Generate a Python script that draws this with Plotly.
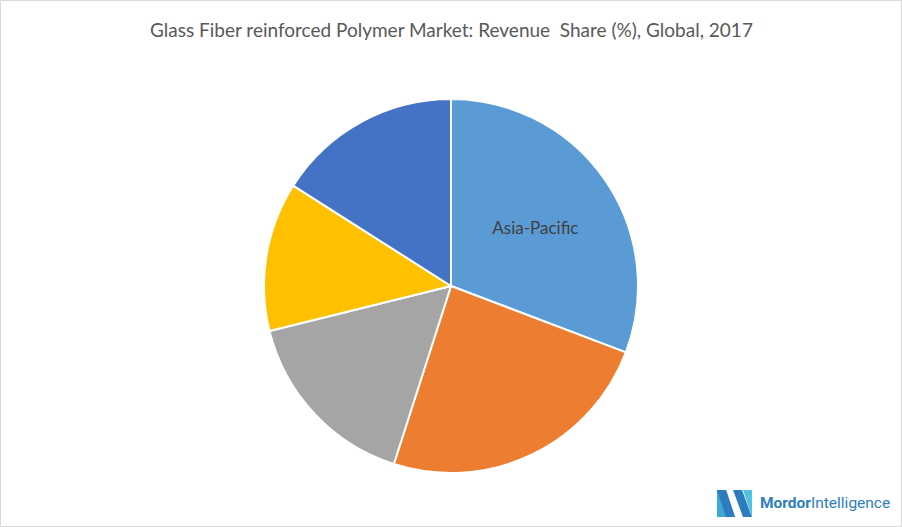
import plotly.graph_objects as go

regions = ["Asia-Pacific", "Europe", "North America", "South America", "Middle East & Africa"]
shares = [30.8, 24.2, 16.2, 12.9, 16.0]
colors = ["#5B9BD5", "#ED7D31", "#A5A5A5", "#FFC000", "#4472C4"]
shown_labels = ["Asia-Pacific", "", "", "", ""]

W, H = 902, 527
cx, cy, r = 451, 286, 187

fig = go.Figure(go.Pie(
    labels=regions,
    values=shares,
    sort=False,
    direction="clockwise",
    rotation=0,
    marker=dict(colors=colors, line=dict(color="white", width=2)),
    text=shown_labels,
    textinfo="text",
    textposition="inside",
    insidetextorientation="horizontal",
    textfont=dict(family="Lato, Liberation Sans, sans-serif", size=17, color="#404040"),
    hoverinfo="label+percent",
    showlegend=False,
    domain=dict(x=[(cx - r) / W, (cx + r) / W], y=[(H - cy - r) / H, (H - cy + r) / H]),
))

def px(x):
    return x / W

def py(y):
    return 1 - y / H

shapes = [
    dict(type="rect", xref="paper", yref="paper", x0=px(0.5), x1=px(W - 0.5), y0=py(H - 0.5), y1=py(0.5),
         line=dict(color="#D9D9D9", width=1), fillcolor="rgba(0,0,0,0)"),
]
# logo icon
logo_polys = [
    ([(717, 490), (726, 490), (735, 517), (717, 517)], "#3FA9D6"),
    ([(717, 490), (726, 490), (735, 517), (726, 517)], "#2B7DBF"),
    ([(733, 490), (742, 490), (752, 517), (743, 517)], "#2B7DBF"),
    ([(743, 490), (752, 490), (752, 517)], "#4FC3E0"),
]
for pts, col in logo_polys:
    path = "M " + " L ".join(f"{px(x)},{py(y)}" for x, y in pts) + " Z"
    shapes.append(dict(type="path", xref="paper", yref="paper", path=path, fillcolor=col, line=dict(width=0)))

annotations = [
    dict(text="Glass Fiber reinforced Polymer Market: Revenue  Share (%), Global, 2017",
         x=px(451), y=py(30), xref="paper", yref="paper", showarrow=False,
         xanchor="center", yanchor="middle",
         font=dict(family="Lato, Liberation Sans, sans-serif", size=19, color="#595959")),
    dict(text="<b>Mordor</b>Intelligence", x=px(758), y=py(503), xref="paper", yref="paper", showarrow=False,
         xanchor="left", yanchor="middle",
         font=dict(family="Roboto, sans-serif", size=15.5, color="#2E7EBF")),
]

fig.update_layout(
    width=W, height=H,
    margin=dict(l=0, r=0, t=0, b=0),
    paper_bgcolor="white",
    shapes=shapes,
    annotations=annotations,
)

fig.write_html("out.html", config={"displayModeBar": False},
               post_script="document.body.style.margin='0';document.body.style.overflow='hidden';")
